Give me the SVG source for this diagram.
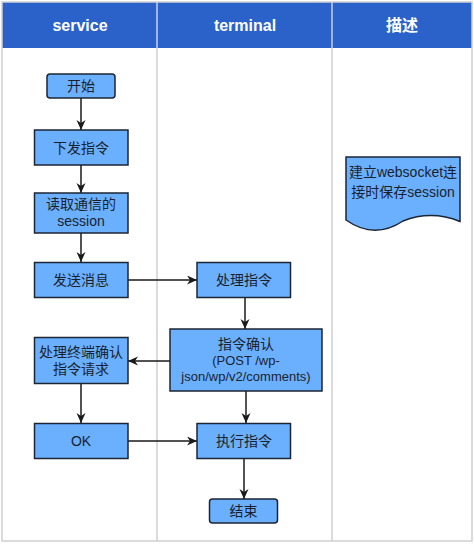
<svg xmlns="http://www.w3.org/2000/svg" width="474" height="544" viewBox="0 0 474 544">
<defs>
<style>
.hdr{fill:#2a62c9}
.lane{stroke:#cfcfcf;stroke-width:1.5;fill:none}
.hline{stroke:#c3d2ee;stroke-width:1.5}
.ht{font-family:"Liberation Sans","Noto Sans CJK SC",sans-serif;font-size:16px;font-weight:bold;fill:#ffffff;text-anchor:middle}
.node{fill:#6ab0ff;stroke:#1c2534;stroke-width:1.5}
.t{font-family:"Liberation Sans","Noto Sans CJK SC",sans-serif;font-size:14px;fill:#1a1f2b;text-anchor:middle}
.ts{font-size:13px}
.edge{stroke:#1a1a1a;stroke-width:1.5;fill:none;marker-end:url(#arr)}
</style>
<marker id="arr" markerUnits="userSpaceOnUse" markerWidth="12" markerHeight="10" refX="10" refY="4.5" orient="auto">
<path d="M0,0 L10,4.5 L0,9 L3,4.5 Z" fill="#1a1a1a"/>
</marker>
</defs>
<rect x="0" y="0" width="474" height="544" fill="#ffffff"/>
<g id="lanes">
<rect class="hdr" x="2" y="2" width="470" height="46"/>
<rect class="lane" x="2" y="2" width="470" height="539"/>
<line class="hline" x1="157" y1="2" x2="157" y2="48"/>
<line class="hline" x1="332" y1="2" x2="332" y2="48"/>
<line class="lane" x1="157" y1="48" x2="157" y2="541"/>
<line class="lane" x1="332" y1="48" x2="332" y2="541"/>
<text class="ht" x="80" y="31">service</text>
<text class="ht" x="245" y="31">terminal</text>
<text class="ht" x="402" y="31">描述</text>
</g>
<g id="connectors">
<line class="edge" x1="81" y1="98" x2="81" y2="130"/>
<line class="edge" x1="81" y1="165" x2="81" y2="193"/>
<line class="edge" x1="81" y1="233" x2="81" y2="262"/>
<line class="edge" x1="128" y1="280" x2="197" y2="280"/>
<line class="edge" x1="245" y1="298" x2="245" y2="329"/>
<line class="edge" x1="170" y1="361" x2="128" y2="361"/>
<line class="edge" x1="81" y1="383" x2="81" y2="423"/>
<line class="edge" x1="128" y1="441" x2="197" y2="441"/>
<line class="edge" x1="246" y1="391" x2="246" y2="423"/>
<line class="edge" x1="244" y1="459" x2="244" y2="499"/>
</g>
<g id="start">
<rect class="node" x="47" y="74" width="68" height="24" rx="3"/>
<text class="t" x="81" y="91">开始</text>
</g>
<g id="issue">
<rect class="node" x="34.5" y="130" width="93.5" height="35"/>
<text class="t" x="81" y="152.5">下发指令</text>
</g>
<g id="readSession">
<rect class="node" x="34.5" y="193" width="93.5" height="40"/>
<text class="t" x="81" y="209">读取通信的</text>
<text class="t" x="81" y="226">session</text>
</g>
<g id="send">
<rect class="node" x="34.5" y="262.5" width="93.5" height="35"/>
<text class="t" x="81" y="285">发送消息</text>
</g>
<g id="process">
<rect class="node" x="197" y="262.5" width="93.5" height="35"/>
<text class="t" x="244" y="285">处理指令</text>
</g>
<g id="confirm">
<rect class="node" x="170" y="329" width="152" height="62"/>
<text class="t" x="246" y="349">指令确认</text>
<text class="t ts" x="246" y="365">(POST /wp-</text>
<text class="t ts" x="246" y="381">json/wp/v2/comments)</text>
</g>
<g id="handleConfirm">
<rect class="node" x="34.5" y="337.5" width="93.5" height="46"/>
<text class="t" x="81" y="357">处理终端确认</text>
<text class="t" x="81" y="374">指令请求</text>
</g>
<g id="ok">
<rect class="node" x="34.5" y="423.5" width="93.5" height="35"/>
<text class="t" x="81" y="446">OK</text>
</g>
<g id="execute">
<rect class="node" x="197" y="423.5" width="93.5" height="35"/>
<text class="t" x="244" y="446">执行指令</text>
</g>
<g id="end">
<rect class="node" x="209.5" y="499" width="68" height="24" rx="3"/>
<text class="t" x="243.5" y="516">结束</text>
</g>
<g id="note">
<path class="node" d="M346,157 H460 V221.5 Q431.5,210 403,221 Q374.5,240 346,220 Z"/>
<text class="t" x="403" y="177">建立websocket连</text>
<text class="t" x="403" y="197">接时保存session</text>
</g>
</svg>
